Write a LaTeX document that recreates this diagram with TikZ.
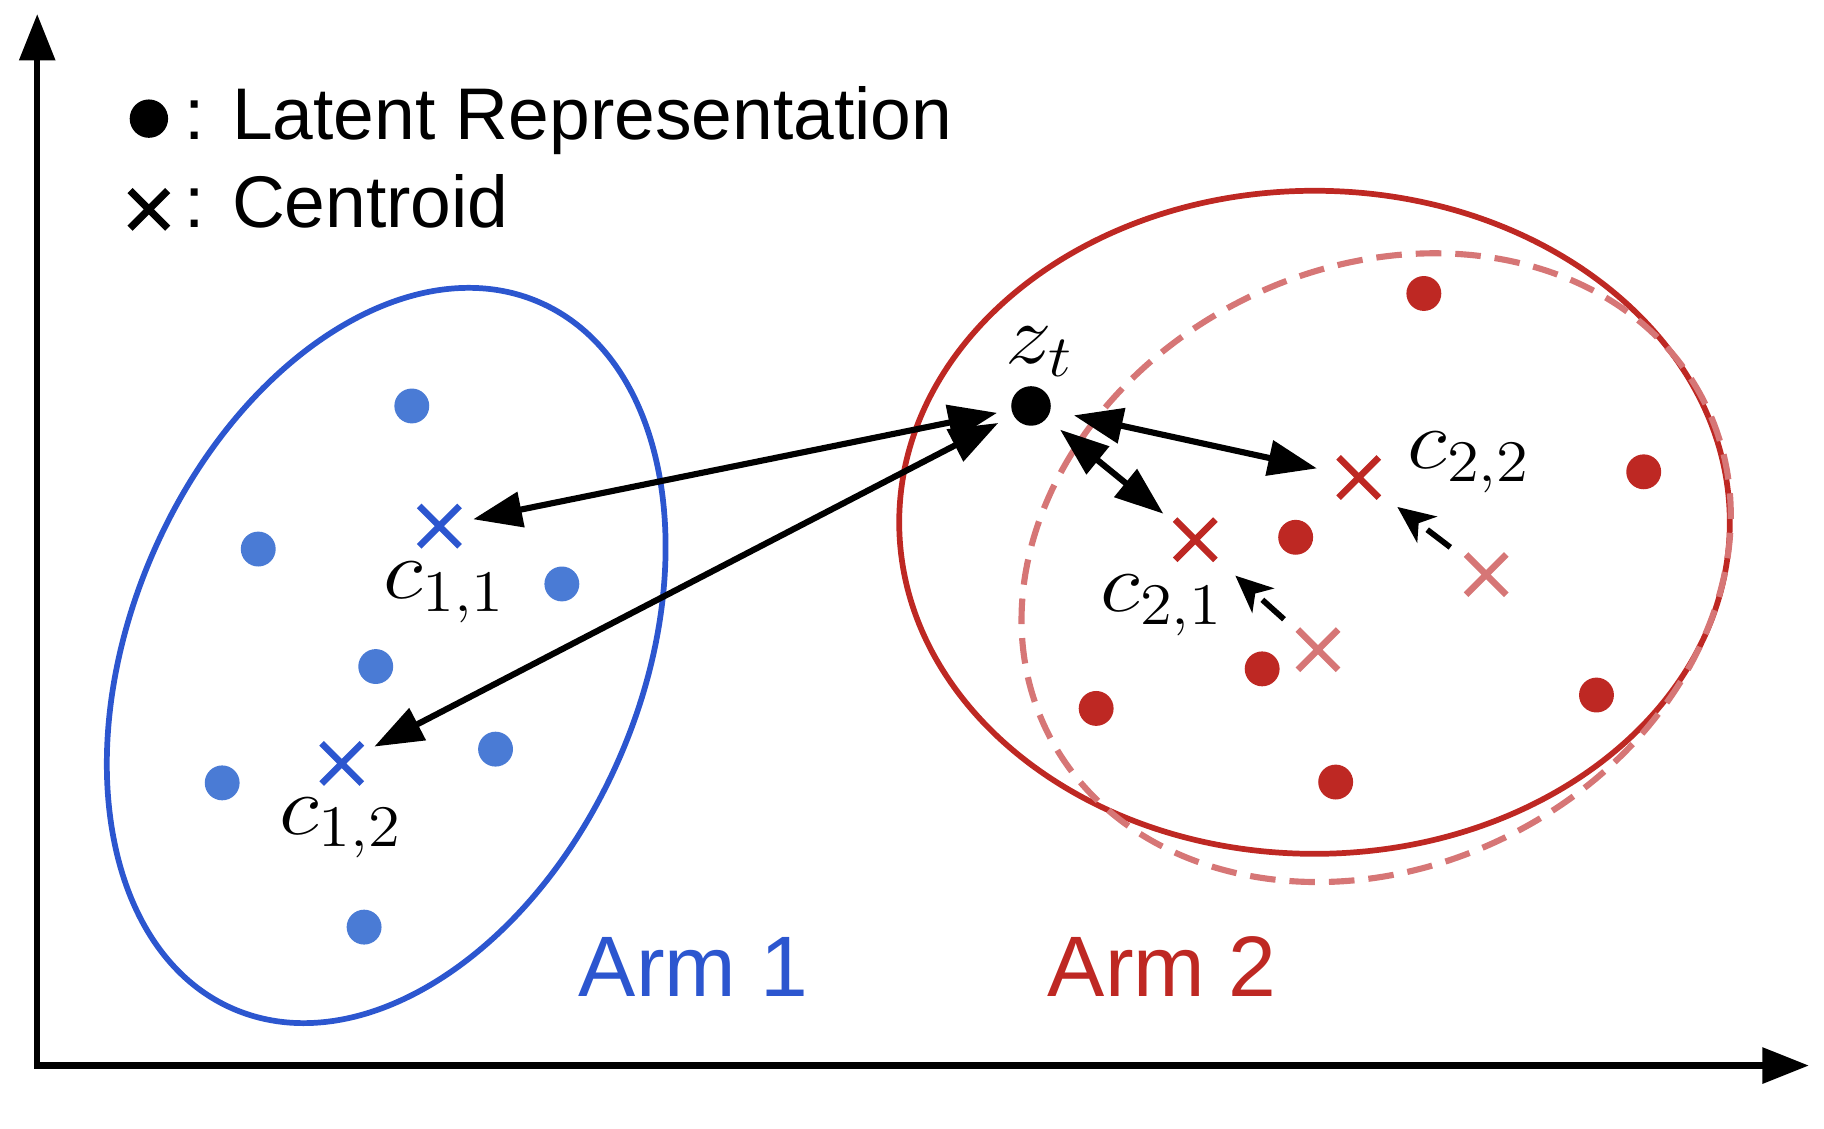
\documentclass[tikz,border=0pt]{standalone}
\usepackage{fontspec}
\usepackage{graphicx}
\newfontfamily\arialfont{Liberation Sans}
\usepackage{tikz}
\usetikzlibrary{shapes.misc,arrows.meta,positioning}
\definecolor{armblue}{RGB}{44,86,207}
\definecolor{dotblue}{RGB}{74,123,213}
\definecolor{armred}{RGB}{190,40,35}
\definecolor{oldred}{RGB}{214,118,118}

\begin{document}
\begin{tikzpicture}[
        >={Triangle[length=0.42cm,width=0.30cm]},
        bdot/.style={circle,fill=dotblue,inner sep=0pt,minimum size=0.30cm},
        rdot/.style={circle,fill=armred,inner sep=0pt,minimum size=0.30cm},
        cent/.style={cross out,draw,line width=1.6pt,inner sep=0pt,minimum size=0.29cm},
        distarrow/.style={<->,line width=1.5pt},
        movearrow/.style={-{Stealth[length=0.32cm,width=0.28cm,inset=0.09cm]},line width=1.4pt,dash pattern=on 0.25cm off 0.1cm},
        mlab/.style={font=\fontsize{20.74}{24}\selectfont,anchor=base,inner sep=0pt},
        legtext/.style={font=\arialfont\fontsize{17.9}{21}\selectfont,anchor=base west,inner sep=0pt},
        armlab/.style={font=\arialfont\fontsize{21}{25}\selectfont,anchor=base west,inner sep=0pt}]
        \useasboundingbox (0,0) rectangle (15.68,9.70);

        % Axes
        \coordinate (o) at (0.32,0.54);
        \coordinate (xend) at (15.55,0.54);
        \coordinate (yend) at (0.32,9.58);
        \draw[line width=1.6pt,{Triangle[length=0.4cm,width=0.3cm]}-{Triangle[length=0.4cm,width=0.3cm]}] (yend) -- (o) -- (xend);

        % Legend
        \node[circle,fill,inner sep=0pt,minimum size=0.33cm] (legdot) at (1.28,8.68) {};
        \node[cent,line width=1.8pt,minimum size=0.26cm] (legcross) at (1.28,7.90) {};
        \node[legtext] (legdottext) at (1.58,8.50) {: Latent Representation};
        \node[legtext] (legcrosstext) at (1.58,7.74) {: Centroid};

        % Arm 1
        \draw[armblue,line width=1.4pt,rotate around={66.6:(3.32,4.065)}] (3.32,4.065) ellipse [x radius=3.31, y radius=2.19];
        \node[bdot] (b1) at (3.54,6.21) {};
        \node[bdot] (b2) at (2.22,4.98) {};
        \node[bdot] (b3) at (4.83,4.68) {};
        \node[bdot] (b4) at (3.23,3.97) {};
        \node[bdot] (b5) at (4.26,3.26) {};
        \node[bdot] (b6) at (1.91,2.97) {};
        \node[bdot] (b7) at (3.13,1.73) {};
        \node[cent,armblue] (c11) at (3.777,5.177) {};
        \node[cent,armblue] (c12) at (2.938,3.137) {};

        % Arm 2
        \draw[armred,line width=1.4pt] (11.30,5.21) ellipse [x radius=3.57, y radius=2.85];
        \draw[oldred,line width=1.5pt,dash pattern=on 0.22cm off 0.12cm,rotate around={27:(11.83,4.82)}] (11.83,4.82) ellipse [x radius=3.16, y radius=2.57];
        \node[rdot] (r1) at (12.24,7.177) {};
        \node[rdot] (r2) at (14.13,5.644) {};
        \node[rdot] (r3) at (11.138,5.081) {};
        \node[rdot] (r4) at (10.85,3.95) {};
        \node[rdot] (r5) at (9.423,3.61) {};
        \node[rdot] (r6) at (13.724,3.725) {};
        \node[rdot] (r7) at (11.482,2.977) {};
        \node[cent,armred] (c21) at (10.275,5.06) {};
        \node[cent,armred] (c22) at (11.68,5.595) {};
        \node[cent,oldred] (l1) at (11.33,4.115) {};
        \node[cent,oldred] (l2) at (12.776,4.76) {};

        % Latent point and distances
        \node[circle,fill,inner sep=0pt,minimum size=0.34cm] (zt) at (8.863,6.21) {};
        \draw[distarrow,shorten <=0.12cm,shorten >=0.12cm] (zt) -- (c11);
        \draw[distarrow,shorten <=0.14cm,shorten >=0.12cm] (zt) -- (c12);
        \draw[distarrow,shorten <=0.20cm,shorten >=0.19cm] (zt) -- (c22);
        \draw[distarrow,shorten <=0.145cm,shorten >=0.13cm] (zt) -- (c21);
        \draw[movearrow,shorten <=0.16cm,shorten >=0.23cm] (l1) -- (c21);
        \draw[movearrow,shorten <=0.17cm,shorten >=0.20cm] (l2) -- (c22);

        % Labels
        \node[mlab] (ztlab) at (8.935,6.576) {\scalebox{1.1}[1]{$z_t$}};
        \node[mlab] (c11lab) at (3.82,4.555) {\scalebox{1.1}[1]{$c_{1,1}$}};
        \node[mlab] (c12lab) at (2.93,2.53) {\scalebox{1.1}[1]{$c_{1,2}$}};
        \node[mlab] (c21lab) at (9.99,4.444) {\scalebox{1.1}[1]{$c_{2,1}$}};
        \node[mlab] (c22lab) at (12.63,5.673) {\scalebox{1.1}[1]{$c_{2,2}$}};
        \node[armlab,armblue] (arm1) at (4.97,1.13) {Arm 1};
        \node[armlab,armred] (arm2) at (9.00,1.13) {Arm 2};
    \end{tikzpicture}
\end{document}
